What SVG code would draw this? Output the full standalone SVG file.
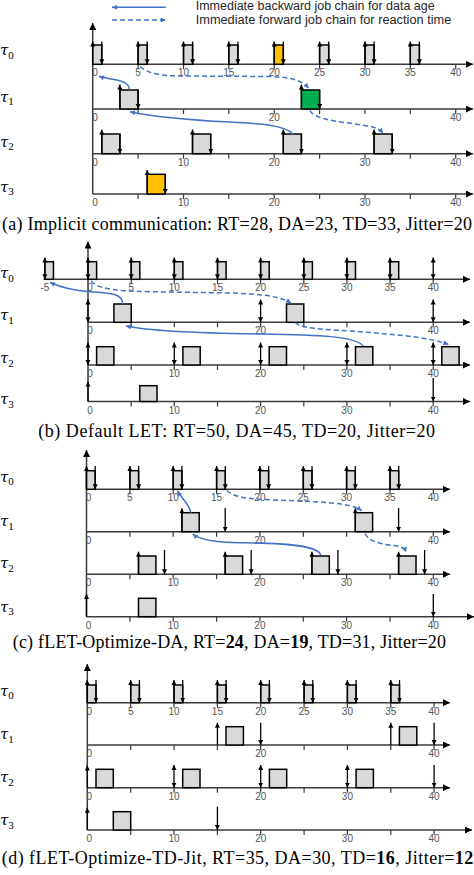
<svg xmlns="http://www.w3.org/2000/svg" width="474" height="875" viewBox="0 0 474 875">
<defs>
<marker id="ah" viewBox="0 0 10 10" refX="10" refY="5" markerWidth="5" markerHeight="5.5" markerUnits="userSpaceOnUse" orient="auto-start-reverse"><path d="M0,0L10,5L0,10z" fill="#000"/></marker>
<marker id="axh" viewBox="0 0 10 10" refX="10" refY="5" markerWidth="7" markerHeight="7" markerUnits="userSpaceOnUse" orient="auto"><path d="M0,0L10,5L0,10z" fill="#000"/></marker>
<marker id="bh" viewBox="0 0 10 10" refX="10" refY="5" markerWidth="6" markerHeight="5" markerUnits="userSpaceOnUse" orient="auto"><path d="M0,0L10,5L0,10z" fill="#4472c4"/></marker>
</defs>
<style>
.ax{stroke:#3b3b3b;stroke-width:1.5;fill:none;marker-end:url(#axh)}
.tk{stroke:#3b3b3b;stroke-width:1.2;fill:none}
.jb{fill:#d9d9d9;stroke:#000;stroke-width:1.5}
.or{fill:#ffc000}
.gr{fill:#00b050}
.ar{stroke:#000;stroke-width:1.3;fill:none;marker-end:url(#ah)}
.da{stroke:#000;stroke-width:1.3;fill:none;marker-start:url(#ah);marker-end:url(#ah)}
.nm{font-family:"Liberation Sans",Arial,sans-serif;font-size:10px;fill:#555;text-anchor:middle}
.tau{font-family:"DejaVu Serif","Liberation Serif",serif;font-style:italic;font-size:15px;fill:#000}
.sub{font-family:"Liberation Serif",serif;font-style:normal;font-size:11px}
.cb{stroke:#4472c4;stroke-width:1.5;fill:none;marker-end:url(#bh)}
.cf{stroke:#4472c4;stroke-width:1.5;fill:none;stroke-dasharray:5 3;marker-end:url(#bh)}
.cap{font-family:"Liberation Serif","Times New Roman",serif;font-size:18px;fill:#000}
.leg{font-family:"Liberation Sans",Arial,sans-serif;font-size:12px;fill:#262626}
</style>

<g id="legend">
<path class="cb" d="M165.7,7.3H112"/>
<path class="cf" d="M112,20H165.7"/>
<text class="leg" x="195.7" y="10" textLength="239" lengthAdjust="spacingAndGlyphs">Immediate backward job chain for data age</text>
<text class="leg" x="195.7" y="24" textLength="255.6" lengthAdjust="spacingAndGlyphs">Immediate forward job chain for reaction time</text>
</g>

<!-- ===== Panel (a) ===== -->
<g id="panel-a">
<g id="a-axes">
<path class="ax" d="M92.7,194V23"/>
<path class="ax" d="M92.7,64.3H473"/>
<path class="ax" d="M92.7,109H473"/>
<path class="ax" d="M92.7,153.7H473"/>
<path class="ax" d="M92.7,194H473"/>
<path class="tk" d="M138.1,64.3v5M183.5,64.3v5M228.8,64.3v5M274.2,64.3v5M319.6,64.3v5M365,64.3v5M410.3,64.3v5M455.7,64.3v5
M138.1,109v5M183.5,109v5M228.8,109v5M274.2,109v5M319.6,109v5M365,109v5M410.3,109v5M455.7,109v5
M138.1,153.7v5M183.5,153.7v5M228.8,153.7v5M274.2,153.7v5M319.6,153.7v5M365,153.7v5M410.3,153.7v5M455.7,153.7v5
M138.1,194v5M183.5,194v5M228.8,194v5M274.2,194v5M319.6,194v5M365,194v5M410.3,194v5M455.7,194v5"/>
<g class="nm">
<text x="95" y="76.3">0</text><text x="138.1" y="76.3">5</text><text x="183.5" y="76.3">10</text><text x="228.8" y="76.3">15</text><text x="274.2" y="76.3">20</text><text x="319.6" y="76.3">25</text><text x="365" y="76.3">30</text><text x="410.3" y="76.3">35</text><text x="455.7" y="76.3">40</text>
<text x="95" y="121">0</text><text x="274.2" y="121">20</text><text x="455.7" y="121">40</text>
<text x="95" y="165.7">0</text><text x="183.5" y="165.7">10</text><text x="274.2" y="165.7">20</text><text x="365" y="165.7">30</text><text x="455.7" y="165.7">40</text>
<text x="95" y="206">0</text><text x="183.5" y="206">10</text><text x="274.2" y="206">20</text><text x="365" y="206">30</text><text x="455.7" y="206">40</text>
</g>
<text class="tau" x="0" y="55">τ<tspan class="sub" dy="3.5">0</tspan></text>
<text class="tau" x="0" y="101.7">τ<tspan class="sub" dy="3.5">1</tspan></text>
<text class="tau" x="0" y="146.7">τ<tspan class="sub" dy="3.5">2</tspan></text>
<text class="tau" x="0" y="191.7">τ<tspan class="sub" dy="3.5">3</tspan></text>
</g>
<g id="a-tau0">
<rect class="jb" x="92.7" y="45" width="9.1" height="19.3"/><path class="ar" d="M92.7,64.3V41.5"/><path class="ar" d="M101.8,41.5V64.3"/>
<rect class="jb" x="138.1" y="45" width="9.1" height="19.3"/><path class="ar" d="M138.1,64.3V41.5"/><path class="ar" d="M147.2,41.5V64.3"/>
<rect class="jb" x="183.5" y="45" width="9.1" height="19.3"/><path class="ar" d="M183.5,64.3V41.5"/><path class="ar" d="M192.6,41.5V64.3"/>
<rect class="jb" x="228.8" y="45" width="9.1" height="19.3"/><path class="ar" d="M228.8,64.3V41.5"/><path class="ar" d="M237.9,41.5V64.3"/>
<rect class="jb or" x="274.2" y="45" width="9.1" height="19.3"/><path class="ar" d="M274.2,64.3V41.5"/><path class="ar" d="M283.3,41.5V64.3"/>
<rect class="jb" x="319.6" y="45" width="9.1" height="19.3"/><path class="ar" d="M319.6,64.3V41.5"/><path class="ar" d="M328.7,41.5V64.3"/>
<rect class="jb" x="365" y="45" width="9.1" height="19.3"/><path class="ar" d="M365,64.3V41.5"/><path class="ar" d="M374.1,41.5V64.3"/>
<rect class="jb" x="410.3" y="45" width="9.1" height="19.3"/><path class="ar" d="M410.3,64.3V41.5"/><path class="ar" d="M419.4,41.5V64.3"/>
</g>
<g id="a-tau1">
<rect class="jb" x="119.9" y="90" width="18.2" height="19"/><path class="ar" d="M119.9,109V84.5"/><path class="ar" d="M138.1,90V109"/>
<rect class="jb gr" x="301.4" y="90" width="18.2" height="19"/><path class="ar" d="M301.4,109V84.5"/><path class="ar" d="M319.6,90V109"/>
</g>
<g id="a-tau2">
<rect class="jb" x="101.8" y="134" width="18.1" height="19.7"/><path class="ar" d="M101.8,153.7V129.5"/><path class="ar" d="M119.9,134V153.7"/>
<rect class="jb" x="192.5" y="134" width="18.2" height="19.7"/><path class="ar" d="M192.5,153.7V129.5"/><path class="ar" d="M210.7,134V153.7"/>
<rect class="jb" x="283.3" y="134" width="18.1" height="19.7"/><path class="ar" d="M283.3,153.7V129.5"/><path class="ar" d="M301.4,134V153.7"/>
<rect class="jb" x="374.1" y="134" width="18.1" height="19.7"/><path class="ar" d="M374.1,153.7V129.5"/><path class="ar" d="M392.2,134V153.7"/>
</g>
<g id="a-tau3">
<rect class="jb or" x="147.2" y="174.3" width="18.1" height="19.7"/><path class="ar" d="M147.2,194V170"/><path class="ar" d="M165.3,174.3V194"/>
</g>
<text class="cap" x="2" y="230" textLength="470" lengthAdjust="spacing">(a) Implicit communication: RT=28, DA=23, TD=33, Jitter=20</text>
</g>

<!-- ===== Panel (b) ===== -->
<g id="panel-b">
<g id="b-axes">
<path class="ax" d="M88,401.5V241.5"/>
<path class="ax" d="M43.5,279.3H470"/>
<path class="ax" d="M88,322.3H470"/>
<path class="ax" d="M88,365H470"/>
<path class="ax" d="M88,401.5H470"/>
<path class="tk" d="M131.2,279.3v5M174.3,279.3v5M217.5,279.3v5M260.6,279.3v5M303.8,279.3v5M346.9,279.3v5M390.1,279.3v5M433.2,279.3v5
M131.2,322.3v5M174.3,322.3v5M217.5,322.3v5M260.6,322.3v5M303.8,322.3v5M346.9,322.3v5M390.1,322.3v5M433.2,322.3v5
M131.2,365v5M174.3,365v5M217.5,365v5M260.6,365v5M303.8,365v5M346.9,365v5M390.1,365v5M433.2,365v5
M131.2,401.5v5M174.3,401.5v5M217.5,401.5v5M260.6,401.5v5M303.8,401.5v5M346.9,401.5v5M390.1,401.5v5M433.2,401.5v5"/>
<g class="nm">
<text x="44.9" y="291.3">-5</text><text x="90" y="291.3">0</text><text x="131.2" y="291.3">5</text><text x="174.3" y="291.3">10</text><text x="217.5" y="291.3">15</text><text x="260.6" y="291.3">20</text><text x="303.8" y="291.3">25</text><text x="346.9" y="291.3">30</text><text x="390.1" y="291.3">35</text><text x="433.2" y="291.3">40</text>
<text x="90" y="334.3">0</text><text x="260.6" y="334.3">20</text><text x="433.2" y="334.3">40</text>
<text x="90" y="377">0</text><text x="174.3" y="377">10</text><text x="260.6" y="377">20</text><text x="346.9" y="377">30</text><text x="433.2" y="377">40</text>
<text x="90" y="413.5">0</text><text x="174.3" y="413.5">10</text><text x="260.6" y="413.5">20</text><text x="346.9" y="413.5">30</text><text x="433.2" y="413.5">40</text>
</g>
<text class="tau" x="0" y="278.3">τ<tspan class="sub" dy="3.5">0</tspan></text>
<text class="tau" x="0" y="320">τ<tspan class="sub" dy="3.5">1</tspan></text>
<text class="tau" x="0" y="363.3">τ<tspan class="sub" dy="3.5">2</tspan></text>
<text class="tau" x="0" y="404.3">τ<tspan class="sub" dy="3.5">3</tspan></text>
</g>
<g id="b-tau0">
<rect class="jb" x="44.85" y="261.7" width="8.6" height="17.6"/><path class="da" d="M44.85,279.3V257.5"/>
<rect class="jb" x="88" y="261.7" width="8.6" height="17.6"/><path class="da" d="M88,279.3V257.5"/>
<rect class="jb" x="131.2" y="261.7" width="8.6" height="17.6"/><path class="da" d="M131.2,279.3V257.5"/>
<rect class="jb" x="174.3" y="261.7" width="8.6" height="17.6"/><path class="da" d="M174.3,279.3V257.5"/>
<rect class="jb" x="217.5" y="261.7" width="8.6" height="17.6"/><path class="da" d="M217.5,279.3V257.5"/>
<rect class="jb" x="260.6" y="261.7" width="8.6" height="17.6"/><path class="da" d="M260.6,279.3V257.5"/>
<rect class="jb" x="303.8" y="261.7" width="8.6" height="17.6"/><path class="da" d="M303.8,279.3V257.5"/>
<rect class="jb" x="346.9" y="261.7" width="8.6" height="17.6"/><path class="da" d="M346.9,279.3V257.5"/>
<rect class="jb" x="390.1" y="261.7" width="8.6" height="17.6"/><path class="da" d="M390.1,279.3V257.5"/>
<path class="da" d="M433.2,279.3V257.5"/>
</g>
<g id="b-tau1">
<path class="da" d="M88,322.3V299.5"/><path class="da" d="M260.6,322.3V299.5"/><path class="da" d="M433.2,322.3V299.5"/>
<rect class="jb" x="113.9" y="304" width="17.3" height="18.3"/>
<rect class="jb" x="286.5" y="304" width="17.3" height="18.3"/>
</g>
<g id="b-tau2">
<path class="da" d="M88,365V342.5"/><path class="da" d="M174.3,365V342.5"/><path class="da" d="M260.6,365V342.5"/><path class="da" d="M346.9,365V342.5"/><path class="da" d="M433.2,365V342.5"/>
<rect class="jb" x="96.6" y="346.7" width="17.3" height="18.3"/>
<rect class="jb" x="182.9" y="346.7" width="17.3" height="18.3"/>
<rect class="jb" x="269.2" y="346.7" width="17.3" height="18.3"/>
<rect class="jb" x="355.5" y="346.7" width="17.3" height="18.3"/>
<rect class="jb" x="441.8" y="346.7" width="17.3" height="18.3"/>
</g>
<g id="b-tau3">
<path class="ar" d="M88,401.5V381.5"/>
<rect class="jb" x="139.8" y="385.7" width="17.2" height="15.8"/>
<path class="ar" d="M433.2,378V401.5"/>
</g>
<text class="cap" x="38.3" y="436.7" textLength="396.7" lengthAdjust="spacing">(b) Default LET: RT=50, DA=45, TD=20, Jitter=20</text>
</g>

<!-- ===== Panel (c) ===== -->
<g id="panel-c">
<g id="c-axes">
<path class="ax" d="M86.5,616.7V450"/>
<path class="ax" d="M86.5,489.3H450"/>
<path class="ax" d="M86.5,531.7H450"/>
<path class="ax" d="M86.5,574.3H450"/>
<path class="ax" d="M86.5,616.7H474"/>
<path class="tk" d="M129.9,489.3v5M173.2,489.3v5M216.6,489.3v5M259.9,489.3v5M303.3,489.3v5M346.6,489.3v5M390,489.3v5M433.3,489.3v5
M129.9,531.7v5M173.2,531.7v5M216.6,531.7v5M259.9,531.7v5M303.3,531.7v5M346.6,531.7v5M390,531.7v5M433.3,531.7v5
M129.9,574.3v5M173.2,574.3v5M216.6,574.3v5M259.9,574.3v5M303.3,574.3v5M346.6,574.3v5M390,574.3v5M433.3,574.3v5
M129.9,616.7v5M173.2,616.7v5M216.6,616.7v5M259.9,616.7v5M303.3,616.7v5M346.6,616.7v5M390,616.7v5M433.3,616.7v5"/>
<g class="nm">
<text x="88.5" y="501.3">0</text><text x="129.9" y="501.3">5</text><text x="173.2" y="501.3">10</text><text x="216.6" y="501.3">15</text><text x="259.9" y="501.3">20</text><text x="303.3" y="501.3">25</text><text x="346.6" y="501.3">30</text><text x="390" y="501.3">35</text><text x="433.3" y="501.3">40</text>
<text x="88.5" y="543.7">0</text><text x="259.9" y="543.7">20</text><text x="433.3" y="543.7">40</text>
<text x="88.5" y="586.3">0</text><text x="173.2" y="586.3">10</text><text x="259.9" y="586.3">20</text><text x="346.6" y="586.3">30</text><text x="433.3" y="586.3">40</text>
<text x="88.5" y="628.7">0</text><text x="173.2" y="628.7">10</text><text x="259.9" y="628.7">20</text><text x="346.6" y="628.7">30</text><text x="433.3" y="628.7">40</text>
</g>
<text class="tau" x="0" y="481.7">τ<tspan class="sub" dy="3.5">0</tspan></text>
<text class="tau" x="0" y="526">τ<tspan class="sub" dy="3.5">1</tspan></text>
<text class="tau" x="0" y="568.3">τ<tspan class="sub" dy="3.5">2</tspan></text>
<text class="tau" x="0" y="611.7">τ<tspan class="sub" dy="3.5">3</tspan></text>
</g>
<g id="c-tau0">
<rect class="jb" x="86.5" y="470.7" width="8.7" height="18.6"/><path class="ar" d="M86.5,489.3V466"/><path class="ar" d="M95.2,466V489.3"/>
<rect class="jb" x="129.9" y="470.7" width="8.7" height="18.6"/><path class="ar" d="M129.9,489.3V466"/><path class="ar" d="M138.6,466V489.3"/>
<rect class="jb" x="173.2" y="470.7" width="8.7" height="18.6"/><path class="ar" d="M173.2,489.3V466"/><path class="ar" d="M181.9,466V489.3"/>
<rect class="jb" x="216.6" y="470.7" width="8.7" height="18.6"/><path class="ar" d="M216.6,489.3V466"/><path class="ar" d="M225.3,466V489.3"/>
<rect class="jb" x="259.9" y="470.7" width="8.7" height="18.6"/><path class="ar" d="M259.9,489.3V466"/><path class="ar" d="M268.6,466V489.3"/>
<rect class="jb" x="303.3" y="470.7" width="8.7" height="18.6"/><path class="ar" d="M303.3,489.3V466"/><path class="ar" d="M312,466V489.3"/>
<rect class="jb" x="346.6" y="470.7" width="8.7" height="18.6"/><path class="ar" d="M346.6,489.3V466"/><path class="ar" d="M355.3,466V489.3"/>
<rect class="jb" x="390" y="470.7" width="8.7" height="18.6"/><path class="ar" d="M390,489.3V466"/><path class="ar" d="M398.7,466V489.3"/>
</g>
<g id="c-tau1">
<rect class="jb" x="181.9" y="512.7" width="17.3" height="19"/><path class="ar" d="M181.9,531.7V508.3"/><path class="ar" d="M225.2,508V531.7"/>
<rect class="jb" x="355.3" y="512.7" width="17.3" height="19"/><path class="ar" d="M355.3,531.7V508.3"/><path class="ar" d="M398.6,508V531.7"/>
</g>
<g id="c-tau2">
<rect class="jb" x="138.5" y="556" width="17.4" height="18.3"/><path class="ar" d="M138.5,574.3V551.7"/><path class="ar" d="M164.5,550V574.3"/>
<rect class="jb" x="225.2" y="556" width="17.4" height="18.3"/><path class="ar" d="M225.2,574.3V551.7"/><path class="ar" d="M251.2,550V574.3"/>
<rect class="jb" x="311.9" y="556" width="17.4" height="18.3"/><path class="ar" d="M311.9,574.3V551.7"/><path class="ar" d="M337.9,550V574.3"/>
<rect class="jb" x="398.6" y="556" width="17.4" height="18.3"/><path class="ar" d="M398.6,574.3V551.7"/><path class="ar" d="M424.6,550V574.3"/>
</g>
<g id="c-tau3">
<path class="ar" d="M86.5,616.7V594"/>
<rect class="jb" x="138.5" y="598.3" width="17.4" height="18.4"/>
<path class="ar" d="M433.3,594V616.7"/>
</g>
<text class="cap" x="12.7" y="648" textLength="433.3" lengthAdjust="spacing">(c) fLET-Optimize-DA, RT=<tspan font-weight="bold">24</tspan>, DA=<tspan font-weight="bold">19</tspan>, TD=31, Jitter=20</text>
</g>

<!-- ===== Panel (d) ===== -->
<g id="panel-d">
<g id="d-axes">
<path class="ax" d="M87.3,830V664"/>
<path class="ax" d="M87.3,702.7H450"/>
<path class="ax" d="M87.3,745H450"/>
<path class="ax" d="M87.3,787.7H450"/>
<path class="ax" d="M87.3,830H472"/>
<path class="tk" d="M130.7,702.7v5M174,702.7v5M217.4,702.7v5M260.7,702.7v5M304.1,702.7v5M347.4,702.7v5M390.8,702.7v5M434.1,702.7v5
M130.7,745v5M174,745v5M217.4,745v5M260.7,745v5M304.1,745v5M347.4,745v5M390.8,745v5M434.1,745v5
M130.7,787.7v5M174,787.7v5M217.4,787.7v5M260.7,787.7v5M304.1,787.7v5M347.4,787.7v5M390.8,787.7v5M434.1,787.7v5
M130.7,830v5M174,830v5M217.4,830v5M260.7,830v5M304.1,830v5M347.4,830v5M390.8,830v5M434.1,830v5"/>
<g class="nm">
<text x="89.3" y="714.7">0</text><text x="130.7" y="714.7">5</text><text x="174" y="714.7">10</text><text x="217.4" y="714.7">15</text><text x="260.7" y="714.7">20</text><text x="304.1" y="714.7">25</text><text x="347.4" y="714.7">30</text><text x="390.8" y="714.7">35</text><text x="434.1" y="714.7">40</text>
<text x="89.3" y="757">0</text><text x="260.7" y="757">20</text><text x="434.1" y="757">40</text>
<text x="89.3" y="799.7">0</text><text x="174" y="799.7">10</text><text x="260.7" y="799.7">20</text><text x="347.4" y="799.7">30</text><text x="434.1" y="799.7">40</text>
<text x="89.3" y="842">0</text><text x="174" y="842">10</text><text x="260.7" y="842">20</text><text x="347.4" y="842">30</text><text x="434.1" y="842">40</text>
</g>
<text class="tau" x="0" y="695.7">τ<tspan class="sub" dy="3.5">0</tspan></text>
<text class="tau" x="0" y="739">τ<tspan class="sub" dy="3.5">1</tspan></text>
<text class="tau" x="0" y="782.3">τ<tspan class="sub" dy="3.5">2</tspan></text>
<text class="tau" x="0" y="825">τ<tspan class="sub" dy="3.5">3</tspan></text>
</g>
<g id="d-tau0">
<rect class="jb" x="87.3" y="685" width="8.7" height="17.7"/><path class="ar" d="M87.3,702.7V680"/><path class="ar" d="M96,680V702.7"/>
<rect class="jb" x="130.7" y="685" width="8.7" height="17.7"/><path class="ar" d="M130.7,702.7V680"/><path class="ar" d="M139.4,680V702.7"/>
<rect class="jb" x="174" y="685" width="8.7" height="17.7"/><path class="ar" d="M174,702.7V680"/><path class="ar" d="M182.7,680V702.7"/>
<rect class="jb" x="217.4" y="685" width="8.7" height="17.7"/><path class="ar" d="M217.4,702.7V680"/><path class="ar" d="M226.1,680V702.7"/>
<rect class="jb" x="260.7" y="685" width="8.7" height="17.7"/><path class="ar" d="M260.7,702.7V680"/><path class="ar" d="M269.4,680V702.7"/>
<rect class="jb" x="304.1" y="685" width="8.7" height="17.7"/><path class="ar" d="M304.1,702.7V680"/><path class="ar" d="M312.8,680V702.7"/>
<rect class="jb" x="347.4" y="685" width="8.7" height="17.7"/><path class="ar" d="M347.4,702.7V680"/><path class="ar" d="M356.1,680V702.7"/>
<rect class="jb" x="390.8" y="685" width="8.7" height="17.7"/><path class="ar" d="M390.8,702.7V680"/><path class="ar" d="M399.5,680V702.7"/>
</g>
<g id="d-tau1">
<path class="ar" d="M217.4,745V722.7"/><rect class="jb" x="226" y="726.7" width="17.4" height="18.3"/><path class="ar" d="M260.7,722.7V745"/>
<path class="ar" d="M390.8,745V722.7"/><rect class="jb" x="399.4" y="726.7" width="17.4" height="18.3"/><path class="ar" d="M434.1,722.7V745"/>
</g>
<g id="d-tau2">
<path class="ar" d="M87.3,787.7V765.5"/><rect class="jb" x="96" y="769.3" width="17.3" height="18.4"/>
<path class="da" d="M174,787.7V765"/><rect class="jb" x="182.7" y="769.3" width="17.3" height="18.4"/>
<path class="da" d="M260.7,787.7V765"/><rect class="jb" x="269.4" y="769.3" width="17.3" height="18.4"/>
<path class="da" d="M347.4,787.7V765"/><rect class="jb" x="356.1" y="769.3" width="17.3" height="18.4"/>
<path class="ar" d="M434.1,765V787.7"/>
</g>
<g id="d-tau3">
<path class="ar" d="M87.3,830V807.7"/><rect class="jb" x="113.3" y="811.7" width="17.4" height="18.3"/>
<path class="ar" d="M217.4,806.7V830"/>
</g>
<text class="cap" x="1.7" y="864" textLength="471.6" lengthAdjust="spacing">(d) fLET-Optimize-TD-Jit, RT=35, DA=30, TD=<tspan font-weight="bold">16</tspan>, Jitter=<tspan font-weight="bold">12</tspan></text>
</g>

<!-- ===== Connectors (job chains) ===== -->
<g id="connectors">
<path class="cb" d="M129.3,89.5C129,79 112,80.5 99,76.3"/>
<path class="cb" d="M293.3,134.3C285,125 260,123.5 230,122C180,119.5 150,116 130,111.7"/>
<path class="cf" d="M140,66.5C150,75 165,76 185,76L270,76.5C290,77 302,80 308.5,88.3"/>
<path class="cf" d="M310,110.5C314,119 335,121 355,124C372,126.5 378,127 383,133.3"/>

<path class="cb" d="M122.7,304C122.5,294 112,293 90,291.7C72,290.5 60,287 50,282.5"/>
<path class="cb" d="M363.3,346C355,336 320,335 260,334C190,333 150,331 126,326"/>
<path class="cf" d="M91,281C98,289 115,291 150,291.7L230,293C260,294 280,296 291,303"/>
<path class="cf" d="M295,322.5C303,329 320,329 350,331C390,334 430,337 448.3,344.5"/>

<path class="cb" d="M190.7,512.7C190,505 183,500 177.5,491"/>
<path class="cb" d="M320.7,555C318,546 290,543 240,542.7C215,542.4 200,540 192.7,534"/>
<path class="cf" d="M226.7,490.5C235,498 250,499 275,500C320,502 350,502 361.7,510.7"/>
<path class="cf" d="M365,533.5C370,544 390,545 398,546C403,547 405,549 406,552.3"/>
</g>
</svg>
